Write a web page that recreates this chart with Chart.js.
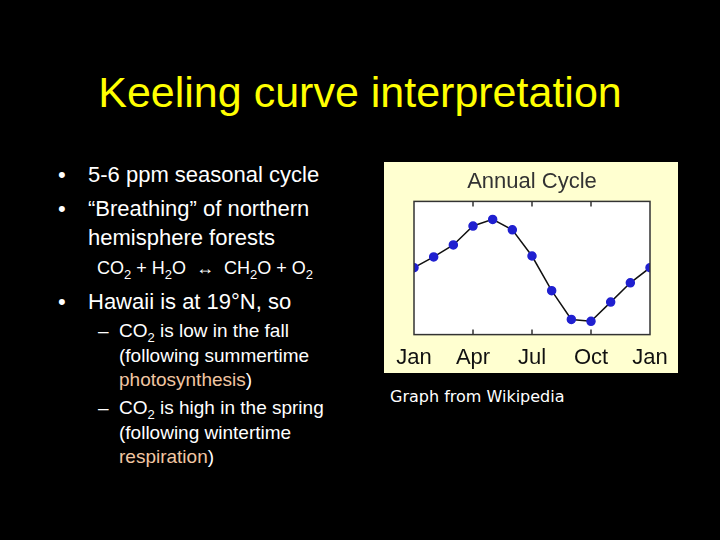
<!DOCTYPE html>
<html>
<head>
<meta charset="utf-8">
<script src="https://cdn.jsdelivr.net/npm/chart.js@4"></script>
<style>
  body { margin: 0; background: #000; width: 720px; height: 540px; overflow: hidden; font-family: "Liberation Sans", Arial, sans-serif; color: #fff; }
  .t { position: absolute; white-space: nowrap; }
  .pk { color: #f2c6a2; }
  sub { font-size: 13px; }
  #wrap { position: absolute; left: 384px; top: 162px; width: 294px; height: 211px; background: #ffffd0; }
</style>
</head>
<body>
<div class="t" style="left:0;width:720px;text-align:center;top:68px;font-size:43px;color:#ffff00;">Keeling curve interpretation</div>

<div class="t" style="left:58px;top:162px;font-size:22px;">•</div>
<div class="t" style="left:88px;top:162px;font-size:22px;">5-6 ppm seasonal cycle</div>
<div class="t" style="left:58px;top:196px;font-size:22px;">•</div>
<div class="t" style="left:88px;top:196px;font-size:22px;">“Breathing” of northern</div>
<div class="t" style="left:88px;top:225px;font-size:22px;">hemisphere forests</div>
<div class="t" style="left:97px;top:258px;font-size:18px;">CO<sub>2</sub> + H<sub>2</sub>O &nbsp;↔&nbsp; CH<sub>2</sub>O + O<sub>2</sub></div>
<div class="t" style="left:58px;top:289px;font-size:22px;">•</div>
<div class="t" style="left:88px;top:289px;font-size:22px;">Hawaii is at 19°N, so</div>

<div class="t" style="left:98px;top:320px;font-size:19px;">–</div>
<div class="t" style="left:119px;top:320px;font-size:19px;">CO<sub>2</sub> is low in the fall</div>
<div class="t" style="left:119px;top:345px;font-size:19px;">(following summertime</div>
<div class="t" style="left:119px;top:369px;font-size:19px;"><span class="pk">photosynthesis</span>)</div>
<div class="t" style="left:98px;top:397px;font-size:19px;">–</div>
<div class="t" style="left:119px;top:397px;font-size:19px;">CO<sub>2</sub> is high in the spring</div>
<div class="t" style="left:119px;top:422px;font-size:19px;">(following wintertime</div>
<div class="t" style="left:119px;top:446px;font-size:19px;"><span class="pk">respiration</span>)</div>

<div class="t" style="left:390px;top:387px;font-size:16px;font-family:'DejaVu Sans',sans-serif;">Graph from Wikipedia</div>

<div id="wrap"><canvas id="c" width="294" height="211"></canvas></div>

<script>
// month index (0 = Jan ... 12 = next Jan) and CO2 deviation (ppm)
const months = [0, 1, 2, 3, 4, 5, 6, 7, 8, 9, 10, 11, 12];
const co2 = [0, 0.68, 1.44, 2.64, 3.06, 2.4, 0.74, -1.46, -3.28, -3.4, -2.18, -0.96, 0];
const tickVals = [0, 3, 6, 9, 12];
const tickLabels = ['Jan', 'Apr', 'Jul', 'Oct', 'Jan'];

// frame + inward ticks like the original figure
const framePlugin = {
    id: 'frame',
    beforeDatasetsDraw(chart) {
        const { ctx, chartArea: a } = chart;
        ctx.save();
        ctx.fillStyle = '#fff';
        ctx.fillRect(a.left, a.top, a.right - a.left, a.bottom - a.top);
        ctx.restore();
    },
    afterDatasetsDraw(chart) {
        const { ctx, chartArea: a, scales } = chart;
        ctx.save();
        ctx.strokeStyle = '#333';
        ctx.lineWidth = 1.5;
        ctx.strokeRect(a.left, a.top, a.right - a.left, a.bottom - a.top);
        [3, 6, 9].forEach(v => {
            const x = scales.x.getPixelForValue(v);
            ctx.beginPath();
            ctx.moveTo(x, a.top); ctx.lineTo(x, a.top + 5);
            ctx.moveTo(x, a.bottom); ctx.lineTo(x, a.bottom - 5);
            ctx.stroke();
        });
        ctx.restore();
    }
};

new Chart(document.getElementById('c'), {
    type: 'line',
    data: {
        datasets: [{
            data: months.map((m, i) => ({ x: m, y: co2[i] })),
            borderColor: '#111',
            borderWidth: 1.5,
            backgroundColor: '#2020d0',
            pointBackgroundColor: '#2020d0',
            pointBorderColor: '#2020d0',
            pointRadius: 4,
            tension: 0
        }]
    },
    options: {
        responsive: false,
        animation: false,
        layout: { padding: { left: 30, right: 28, top: 0, bottom: 0 } },
        plugins: {
            legend: { display: false },
            tooltip: { enabled: false },
            title: {
                display: true,
                text: 'Annual Cycle',
                color: '#333',
                font: { size: 22, family: 'Liberation Sans', weight: 'normal' },
                padding: { top: 7, bottom: 6 }
            }
        },
        scales: {
            x: {
                type: 'linear',
                min: 0, max: 12,
                afterBuildTicks(axis) { axis.ticks = tickVals.map(v => ({ value: v })); },
                ticks: {
                    color: '#111',
                    font: { size: 22, family: 'Liberation Sans' },
                    maxRotation: 0,
                    padding: 2,
                    callback: (v) => tickLabels[tickVals.indexOf(v)]
                },
                grid: { display: false },
                border: { display: false }
            },
            y: {
                display: false,
                min: -4.24, max: 4.2
            }
        }
    },
    plugins: [framePlugin]
});
</script>
</body>
</html>
